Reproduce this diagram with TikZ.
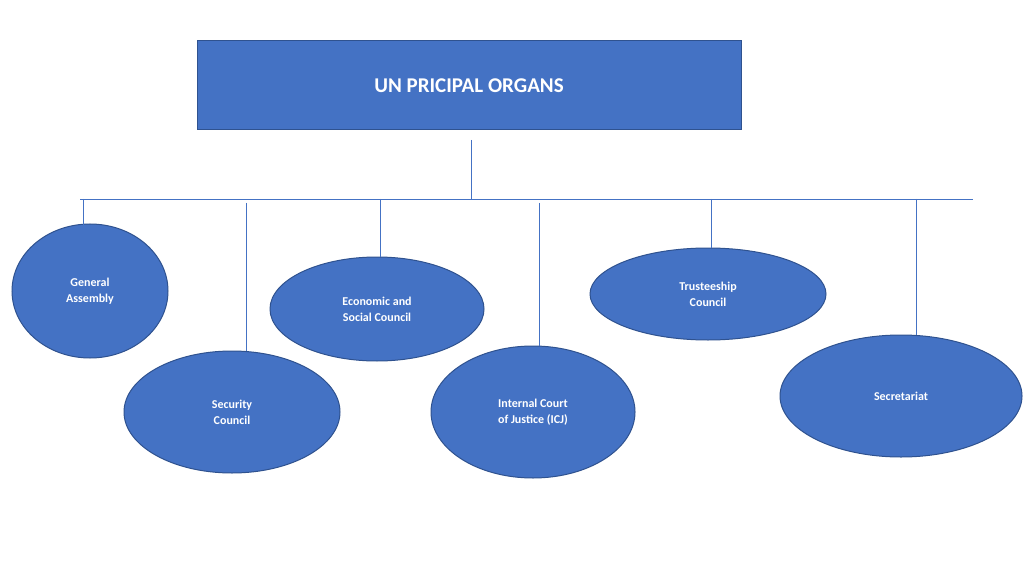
\documentclass[tikz,border=0pt]{standalone}
\usepackage{fontspec}
\setmainfont{Carlito}
\definecolor{fillb}{HTML}{4472C4}
\definecolor{edgeb}{HTML}{2F528F}
\begin{document}
\begin{tikzpicture}[x=1pt,y=-1pt,
 org/.style={ellipse,draw=edgeb,fill=fillb,line width=1pt,text=white,font=\bfseries\fontsize{12}{16}\selectfont,align=center,inner sep=0pt},
 conn/.style={draw=fillb,line width=0.8pt}]
\usetikzlibrary{shapes.geometric}
\useasboundingbox[fill=white] (0,0) rectangle (1024,585);
\node[draw=edgeb,fill=fillb,line width=1pt,minimum width=544pt,minimum height=89pt,text=white,font=\bfseries\fontsize{21}{25}\selectfont] (title) at (469,85.5) {UN PRICIPAL ORGANS};
\node[org,minimum width=156pt,minimum height=134pt] (ga) at (90,291) {General\\Assembly};
\node[org,minimum width=216pt,minimum height=122pt] (sc) at (232,412) {Security\\Council};
\node[org,minimum width=214pt,minimum height=104pt] (ec) at (377,309) {Economic and\\Social Council};
\node[org,minimum width=204pt,minimum height=132pt] (icj) at (533,412) {Internal Court\\of Justice (ICJ)};
\node[org,minimum width=236pt,minimum height=92pt] (tc) at (708,294) {Trusteeship\\Council};
\node[org,minimum width=242pt,minimum height=122pt] (sec) at (901,396) {Secretariat};
\coordinate (t0) at (471,140);
\coordinate (bl) at (80,199);
\coordinate (br) at (973,199);
\path[conn] (t0) -- (471,199);
\path[conn] (bl) -- (br);
\path[conn] (83,199) -- (83,225);
\path[conn] (246,203) -- (sc.north -| 246,0);
\path[conn] (380,199) -- (ec.north -| 380,0);
\path[conn] (539,203) -- (icj.north -| 539,0);
\path[conn] (711,199) -- (tc.north -| 711,0);
\path[conn] (916,199) -- (916,335);
\end{tikzpicture}
\end{document}
